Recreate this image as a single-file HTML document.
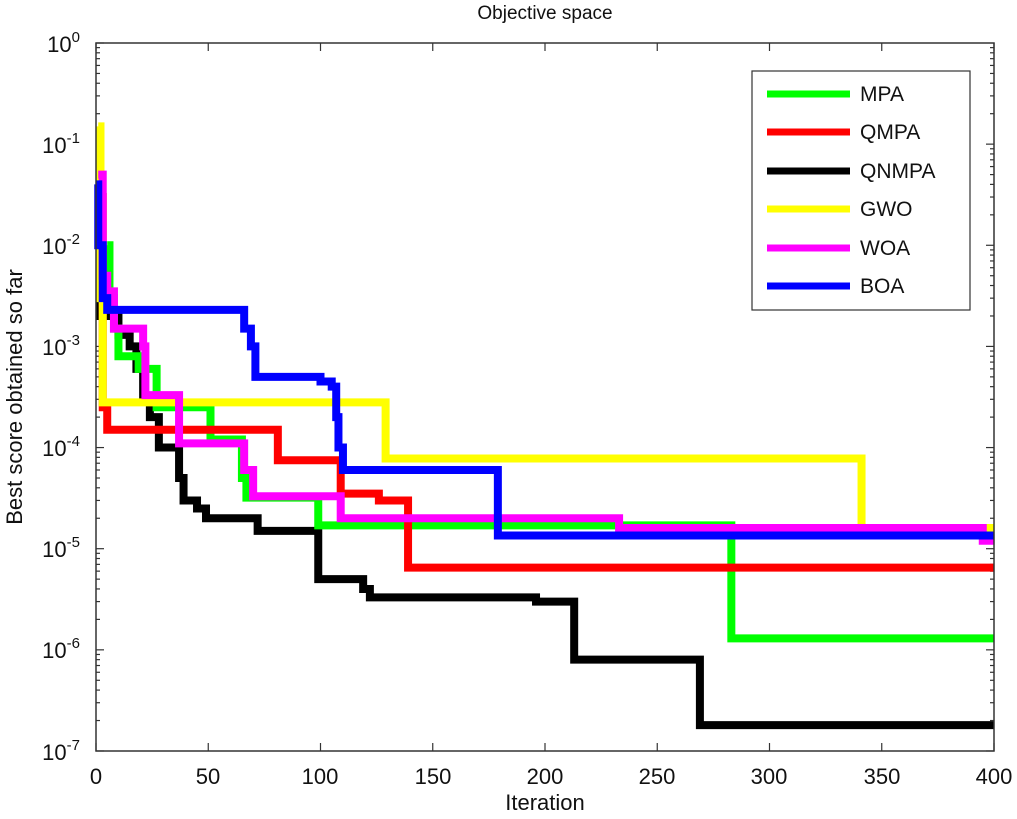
<!DOCTYPE html>
<html><head><meta charset="utf-8"><style>
body{margin:0;background:#fff;}
svg{display:block;font-family:"Liberation Sans",Arial,sans-serif;}
</style></head><body>
<svg id="s" width="1017" height="819" viewBox="0 0 1017 819" xmlns="http://www.w3.org/2000/svg">
<rect width="1017" height="819" fill="#fff"/>
<g id="ticks" stroke="#333" stroke-width="1.2"></g>
<g id="lines" fill="none" stroke-width="8" stroke-linejoin="miter"></g>
<rect x="96" y="43" width="898" height="708" fill="none" stroke="#333" stroke-width="1.5"/>
<text x="545" y="19" font-size="19" text-anchor="middle" fill="#111">Objective space</text>
<text transform="translate(22,397) rotate(-90)" font-size="22" text-anchor="middle" fill="#111">Best score obtained so far</text>
<text x="545" y="810" font-size="22" text-anchor="middle" fill="#111">Iteration</text>
<g font-size="22" text-anchor="middle" fill="#111">
<text x="96" y="784">0</text><text x="208" y="784">50</text><text x="320" y="784">100</text>
<text x="433" y="784">150</text><text x="545" y="784">200</text><text x="657" y="784">250</text>
<text x="769" y="784">300</text><text x="882" y="784">350</text><text x="994" y="784">400</text>
</g>
<g font-size="22" fill="#111" text-anchor="end">
<text x="80" y="52">10<tspan font-size="15" dy="-10">0</tspan></text>
<text x="80" y="153">10<tspan font-size="15" dy="-10">-1</tspan></text>
<text x="80" y="254">10<tspan font-size="15" dy="-10">-2</tspan></text>
<text x="80" y="355">10<tspan font-size="15" dy="-10">-3</tspan></text>
<text x="80" y="456">10<tspan font-size="15" dy="-10">-4</tspan></text>
<text x="80" y="557">10<tspan font-size="15" dy="-10">-5</tspan></text>
<text x="80" y="658">10<tspan font-size="15" dy="-10">-6</tspan></text>
<text x="80" y="760">10<tspan font-size="15" dy="-10">-7</tspan></text>
</g>
<g id="legend">
<rect x="752" y="71" width="218" height="239" fill="#fff" stroke="#333" stroke-width="1.2"/>
<g stroke-width="7">
<line x1="767" y1="94" x2="850" y2="94" stroke="#00ff00"/>
<line x1="767" y1="132" x2="850" y2="132" stroke="#ff0000"/>
<line x1="767" y1="171" x2="850" y2="171" stroke="#000"/>
<line x1="767" y1="209" x2="850" y2="209" stroke="#ffff00"/>
<line x1="767" y1="248" x2="850" y2="248" stroke="#ff00ff"/>
<line x1="767" y1="286" x2="850" y2="286" stroke="#0000ff"/>
</g>
<g font-size="21" fill="#111">
<text x="860" y="101">MPA</text><text x="860" y="139">QMPA</text><text x="860" y="178">QNMPA</text>
<text x="860" y="216">GWO</text><text x="860" y="255">WOA</text><text x="860" y="293">BOA</text>
</g>
</g>
</svg>
<script>
const X=i=>96+i*2.245, Y=v=>43+(-Math.log10(v))*101.14;
const tg=document.getElementById('ticks');
let t='';
for(let k=0;k<=8;k++){const x=X(k*50);t+=`<line x1="${x}" y1="751" x2="${x}" y2="743"/><line x1="${x}" y1="43" x2="${x}" y2="51"/>`;}
for(let d=0;d<7;d++){for(let m=1;m<10;m++){const y=Y(Math.pow(10,-d-1)*m);const L=m==1?8:4;
t+=`<line x1="96" y1="${y}" x2="${96+L}" y2="${y}"/><line x1="994" y1="${y}" x2="${994-L}" y2="${y}"/>`;}}
t+=`<line x1="96" y1="43" x2="104" y2="43"/>`;
tg.innerHTML=t;
const S={
'#000':[[0,5e-3],[2,2e-3],[10,1.3e-3],[15,1e-3],[18,6e-4],[21,3e-4],[24,2e-4],[28,1e-4],[37,5e-5],[39,3e-5],[45,2.5e-5],[49,2e-5],[72,1.5e-5],[99,5e-6],[119,4e-6],[122,3.3e-6],[196,3e-6],[213,8e-7],[269,1.8e-7],[400,1.8e-7]],
'#00ff00':[[5,1e-2],[6,3e-3],[8,1.5e-3],[10,8e-4],[19,6e-4],[27,2.5e-4],[51,1.2e-4],[65,5e-5],[67,3.2e-5],[99,1.7e-5],[283,1.3e-6],[400,1.3e-6]],
'#ff0000':[[2,3e-2],[3,2.5e-4],[5,1.5e-4],[81,7.5e-5],[109,3.5e-5],[126,3e-5],[139,6.5e-6],[400,6.5e-6]],
'#ffff00':[[1,0.15],[2,3e-3],[3,2.8e-4],[129,7.8e-5],[341,1.6e-5],[400,1.6e-5]],
'#ff00ff':[[1,0.05],[3,5e-3],[5,3.5e-3],[8,1.5e-3],[21,1e-3],[22,3.3e-4],[37,1.1e-4],[66,6e-5],[70,3.3e-5],[109,2e-5],[233,1.6e-5],[395,1.2e-5],[400,1.2e-5]],
'#0000ff':[[0,0.04],[1,0.01],[3,3e-3],[5,2.3e-3],[66,1.5e-3],[69,1e-3],[71,5e-4],[100,4.5e-4],[105,4e-4],[107,2e-4],[108,1e-4],[110,6e-5],[179,1.35e-5],[400,1.35e-5]]
};
let h='';
for(const c in S){const p=S[c];let d=`M${X(p[0][0])},${Y(p[0][1])}`;
for(let i=1;i<p.length;i++){d+=` H${X(p[i][0])} V${Y(p[i][1])}`;}
h+=`<path d="${d}" stroke="${c}"/>`;}
document.getElementById('lines').innerHTML=h;
</script>
</body></html>
